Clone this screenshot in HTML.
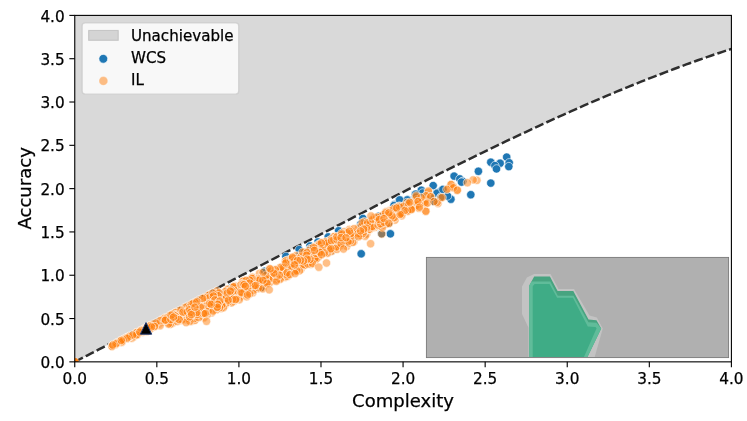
<!DOCTYPE html>
<html lang="en"><head><meta charset="utf-8"><title>Accuracy vs Complexity</title>
<style>html,body{margin:0;padding:0;background:#fff;overflow:hidden}svg{display:block}text{font-family:'DejaVu Sans','Liberation Sans',sans-serif;fill:#000;stroke:#000;stroke-width:0.25px}</style>
</head><body>
<svg width="747" height="421" viewBox="0 0 747 421">
<rect width="747" height="421" fill="#fff"/>
<defs><clipPath id="ax"><rect x="74.75" y="15.40" width="656.65" height="346.45"/></clipPath></defs>
<g clip-path="url(#ax)">
<polygon points="74.75,361.85 78.85,359.74 82.96,357.63 87.06,355.52 91.17,353.41 95.27,351.30 99.37,349.19 103.48,347.08 107.58,344.97 111.69,342.86 115.79,340.75 119.89,338.64 124.00,336.53 128.10,334.42 132.21,332.31 136.31,330.19 140.42,328.08 144.52,325.97 148.62,323.86 152.73,321.74 156.83,319.63 160.94,317.49 165.04,315.35 169.14,313.22 173.25,311.08 177.35,308.94 181.46,306.80 185.56,304.66 189.66,302.52 193.77,300.38 197.87,298.24 201.98,296.10 206.08,293.96 210.18,291.82 214.29,289.68 218.39,287.54 222.50,285.40 226.60,283.26 230.70,281.12 234.81,278.98 238.91,276.85 243.02,274.71 247.12,272.57 251.22,270.43 255.33,268.29 259.43,266.15 263.54,264.01 267.64,261.88 271.75,259.74 275.85,257.60 279.95,255.47 284.06,253.33 288.16,251.20 292.27,249.06 296.37,246.93 300.47,244.80 304.58,242.67 308.68,240.54 312.79,238.41 316.89,236.29 320.99,234.16 325.10,232.03 329.20,229.91 333.31,227.79 337.41,225.67 341.51,223.55 345.62,221.44 349.72,219.32 353.83,217.21 357.93,215.10 362.03,212.99 366.14,210.89 370.24,208.78 374.35,206.68 378.45,204.58 382.55,202.49 386.66,200.39 390.76,198.30 394.87,196.22 398.97,194.13 403.07,192.05 407.18,189.97 411.28,187.90 415.39,185.83 419.49,183.76 423.60,181.70 427.70,179.64 431.80,177.59 435.91,175.54 440.01,173.49 444.12,171.45 448.22,169.41 452.32,167.38 456.43,165.35 460.53,163.33 464.64,161.31 468.74,159.30 472.84,157.29 476.95,155.29 481.05,153.29 485.16,151.30 489.26,149.32 493.36,147.34 497.47,145.37 501.57,143.40 505.68,141.44 509.78,139.49 513.88,137.55 517.99,135.61 522.09,133.68 526.20,131.76 530.30,129.84 534.40,127.94 538.51,126.04 542.61,124.15 546.72,122.26 550.82,120.39 554.93,118.52 559.03,116.67 563.13,114.82 567.24,112.98 571.34,111.15 575.45,109.33 579.55,107.52 583.65,105.72 587.76,103.93 591.86,102.16 595.97,100.39 600.07,98.63 604.17,96.88 608.28,95.15 612.38,93.42 616.49,91.71 620.59,90.01 624.69,88.32 628.80,86.65 632.90,84.98 637.01,83.33 641.11,81.70 645.21,80.07 649.32,78.46 653.42,76.86 657.53,75.28 661.63,73.71 665.74,72.15 669.84,70.58 673.94,69.03 678.05,67.49 682.15,65.96 686.26,64.45 690.36,62.96 694.46,61.48 698.57,60.01 702.67,58.57 706.78,57.14 710.88,55.73 714.98,54.33 719.09,52.95 723.19,51.59 727.30,50.25 731.40,48.93 731.40,15.40 74.75,15.40" fill="#d9d9d9"/>
<polyline points="74.75,361.85 78.85,359.74 82.96,357.63 87.06,355.52 91.17,353.41 95.27,351.30 99.37,349.19 103.48,347.08 107.58,344.97 111.69,342.86 115.79,340.75 119.89,338.64 124.00,336.53 128.10,334.42 132.21,332.31 136.31,330.19 140.42,328.08 144.52,325.97 148.62,323.86 152.73,321.74 156.83,319.63 160.94,317.49 165.04,315.35 169.14,313.22 173.25,311.08 177.35,308.94 181.46,306.80 185.56,304.66 189.66,302.52 193.77,300.38 197.87,298.24 201.98,296.10 206.08,293.96 210.18,291.82 214.29,289.68 218.39,287.54 222.50,285.40 226.60,283.26 230.70,281.12 234.81,278.98 238.91,276.85 243.02,274.71 247.12,272.57 251.22,270.43 255.33,268.29 259.43,266.15 263.54,264.01 267.64,261.88 271.75,259.74 275.85,257.60 279.95,255.47 284.06,253.33 288.16,251.20 292.27,249.06 296.37,246.93 300.47,244.80 304.58,242.67 308.68,240.54 312.79,238.41 316.89,236.29 320.99,234.16 325.10,232.03 329.20,229.91 333.31,227.79 337.41,225.67 341.51,223.55 345.62,221.44 349.72,219.32 353.83,217.21 357.93,215.10 362.03,212.99 366.14,210.89 370.24,208.78 374.35,206.68 378.45,204.58 382.55,202.49 386.66,200.39 390.76,198.30 394.87,196.22 398.97,194.13 403.07,192.05 407.18,189.97 411.28,187.90 415.39,185.83 419.49,183.76 423.60,181.70 427.70,179.64 431.80,177.59 435.91,175.54 440.01,173.49 444.12,171.45 448.22,169.41 452.32,167.38 456.43,165.35 460.53,163.33 464.64,161.31 468.74,159.30 472.84,157.29 476.95,155.29 481.05,153.29 485.16,151.30 489.26,149.32 493.36,147.34 497.47,145.37 501.57,143.40 505.68,141.44 509.78,139.49 513.88,137.55 517.99,135.61 522.09,133.68 526.20,131.76 530.30,129.84 534.40,127.94 538.51,126.04 542.61,124.15 546.72,122.26 550.82,120.39 554.93,118.52 559.03,116.67 563.13,114.82 567.24,112.98 571.34,111.15 575.45,109.33 579.55,107.52 583.65,105.72 587.76,103.93 591.86,102.16 595.97,100.39 600.07,98.63 604.17,96.88 608.28,95.15 612.38,93.42 616.49,91.71 620.59,90.01 624.69,88.32 628.80,86.65 632.90,84.98 637.01,83.33 641.11,81.70 645.21,80.07 649.32,78.46 653.42,76.86 657.53,75.28 661.63,73.71 665.74,72.15 669.84,70.58 673.94,69.03 678.05,67.49 682.15,65.96 686.26,64.45 690.36,62.96 694.46,61.48 698.57,60.01 702.67,58.57 706.78,57.14 710.88,55.73 714.98,54.33 719.09,52.95 723.19,51.59 727.30,50.25 731.40,48.93" fill="none" stroke="#2e2e2e" stroke-width="2.5" stroke-dasharray="9.1 3.2"/>
<g fill="#1f77b4" stroke="#fff" stroke-width="0.62">
<circle cx="506.7" cy="157.1" r="4.20"/>
<circle cx="509.2" cy="162.8" r="4.20"/>
<circle cx="508.8" cy="166.6" r="4.20"/>
<circle cx="500.1" cy="163.2" r="4.20"/>
<circle cx="490.8" cy="162.2" r="4.20"/>
<circle cx="494.9" cy="165.6" r="4.20"/>
<circle cx="496.5" cy="168.9" r="4.20"/>
<circle cx="478.4" cy="171.3" r="4.20"/>
<circle cx="490.8" cy="183.1" r="4.20"/>
<circle cx="470.8" cy="194.7" r="4.20"/>
<circle cx="454.1" cy="176.1" r="4.20"/>
<circle cx="459.8" cy="178.9" r="4.20"/>
<circle cx="462.7" cy="181.4" r="4.20"/>
<circle cx="433.2" cy="185.6" r="4.20"/>
<circle cx="450.9" cy="199.2" r="4.20"/>
<circle cx="447.5" cy="196.0" r="4.20"/>
<circle cx="440.8" cy="191.3" r="4.20"/>
<circle cx="437.0" cy="193.2" r="4.20"/>
<circle cx="421.3" cy="190.3" r="4.20"/>
<circle cx="422.5" cy="193.0" r="4.20"/>
<circle cx="415.2" cy="196.0" r="4.20"/>
<circle cx="407.6" cy="199.8" r="4.20"/>
<circle cx="401.0" cy="200.8" r="4.20"/>
<circle cx="430.4" cy="197.0" r="4.20"/>
<circle cx="440.8" cy="197.0" r="4.20"/>
<circle cx="442.9" cy="189.4" r="4.20"/>
<circle cx="399.3" cy="199.9" r="4.20"/>
<circle cx="407.3" cy="199.9" r="4.20"/>
<circle cx="394.4" cy="204.7" r="4.20"/>
<circle cx="401.7" cy="204.7" r="4.20"/>
<circle cx="390.4" cy="233.8" r="4.20"/>
<circle cx="362.9" cy="218.5" r="4.20"/>
<circle cx="415.4" cy="194.2" r="4.20"/>
<circle cx="434.0" cy="201.5" r="4.20"/>
<circle cx="396.8" cy="208.0" r="4.20"/>
<circle cx="381.5" cy="233.8" r="4.20"/>
<circle cx="388.8" cy="223.3" r="4.20"/>
<circle cx="461.5" cy="182.1" r="4.20"/>
<circle cx="361.2" cy="253.8" r="4.20"/>
<circle cx="338.6" cy="230.8" r="4.20"/>
<circle cx="328.2" cy="236.9" r="4.20"/>
<circle cx="299.2" cy="249.6" r="4.20"/>
<circle cx="285.9" cy="256.4" r="4.20"/>
<circle cx="394.0" cy="205.6" r="4.20"/>
<circle cx="399.7" cy="199.9" r="4.20"/>
<circle cx="415.8" cy="194.2" r="4.20"/>
<circle cx="318.0" cy="242.0" r="4.20"/>
<circle cx="310.0" cy="246.0" r="4.20"/>
<circle cx="332.3" cy="242.2" r="4.20"/>
<circle cx="383.7" cy="219.4" r="4.20"/>
<circle cx="360.7" cy="224.1" r="4.20"/>
<circle cx="256.8" cy="280.8" r="4.20"/>
<circle cx="271.0" cy="273.0" r="4.20"/>
<circle cx="379.2" cy="216.4" r="4.20"/>
<circle cx="215.3" cy="307.8" r="4.20"/>
<circle cx="369.3" cy="224.0" r="4.20"/>
<circle cx="364.8" cy="233.7" r="4.20"/>
<circle cx="302.6" cy="260.6" r="4.20"/>
<circle cx="271.5" cy="277.4" r="4.20"/>
<circle cx="266.9" cy="280.1" r="4.20"/>
<circle cx="262.4" cy="282.9" r="4.20"/>
<circle cx="298.3" cy="256.4" r="4.20"/>
<circle cx="309.5" cy="254.8" r="4.20"/>
<circle cx="318.8" cy="247.3" r="4.20"/>
<circle cx="402.2" cy="208.0" r="4.20"/>
<circle cx="363.9" cy="223.1" r="4.20"/>
<circle cx="331.7" cy="250.7" r="4.20"/>
<circle cx="401.0" cy="206.5" r="4.20"/>
<circle cx="254.9" cy="286.3" r="4.20"/>
<circle cx="244.5" cy="285.3" r="4.20"/>
<circle cx="329.9" cy="250.3" r="4.20"/>
<circle cx="222.6" cy="301.9" r="4.20"/>
<circle cx="221.0" cy="294.7" r="4.20"/>
<circle cx="311.5" cy="259.4" r="4.20"/>
<circle cx="302.3" cy="265.9" r="4.20"/>
<circle cx="387.4" cy="221.0" r="4.20"/>
<circle cx="333.1" cy="244.6" r="4.20"/>
<circle cx="311.3" cy="249.8" r="4.20"/>
<circle cx="308.1" cy="252.1" r="4.20"/>
<circle cx="261.0" cy="287.6" r="4.20"/>
<circle cx="216.5" cy="303.3" r="4.20"/>
<circle cx="250.6" cy="280.4" r="4.20"/>
<circle cx="344.9" cy="242.8" r="4.20"/>
<circle cx="252.2" cy="287.1" r="4.20"/>
<circle cx="284.1" cy="270.1" r="4.20"/>
<circle cx="215.0" cy="301.4" r="4.20"/>
<circle cx="371.0" cy="223.5" r="4.20"/>
<circle cx="243.4" cy="284.8" r="4.20"/>
<circle cx="264.8" cy="271.3" r="4.20"/>
<circle cx="380.5" cy="224.3" r="4.20"/>
<circle cx="310.5" cy="254.7" r="4.20"/>
<circle cx="374.2" cy="223.6" r="4.20"/>
<circle cx="335.1" cy="240.3" r="4.20"/>
<circle cx="354.3" cy="236.2" r="4.20"/>
<circle cx="231.6" cy="287.6" r="4.20"/>
<circle cx="316.4" cy="250.3" r="4.20"/>
<circle cx="310.1" cy="248.8" r="4.20"/>
<circle cx="378.8" cy="216.3" r="4.20"/>
</g>
<g fill="#ff7f0e" fill-opacity="0.5" stroke="#fff" stroke-opacity="0.7" stroke-width="0.85">
<circle cx="245.0" cy="280.5" r="4.20"/>
<circle cx="230.5" cy="293.7" r="4.20"/>
<circle cx="229.2" cy="292.5" r="4.20"/>
<circle cx="343.5" cy="240.5" r="4.20"/>
<circle cx="172.0" cy="317.8" r="4.20"/>
<circle cx="149.9" cy="325.8" r="4.20"/>
<circle cx="176.0" cy="320.0" r="4.20"/>
<circle cx="337.8" cy="241.4" r="4.20"/>
<circle cx="208.3" cy="298.6" r="4.20"/>
<circle cx="166.5" cy="321.2" r="4.20"/>
<circle cx="304.8" cy="264.4" r="4.20"/>
<circle cx="294.3" cy="270.7" r="4.20"/>
<circle cx="331.3" cy="249.9" r="4.20"/>
<circle cx="329.1" cy="240.7" r="4.20"/>
<circle cx="295.0" cy="257.8" r="4.20"/>
<circle cx="363.6" cy="234.2" r="4.20"/>
<circle cx="349.4" cy="229.5" r="4.20"/>
<circle cx="372.0" cy="221.4" r="4.20"/>
<circle cx="127.0" cy="337.9" r="4.20"/>
<circle cx="233.8" cy="301.2" r="4.20"/>
<circle cx="186.9" cy="319.7" r="4.20"/>
<circle cx="270.6" cy="282.0" r="4.20"/>
<circle cx="144.8" cy="328.5" r="4.20"/>
<circle cx="203.7" cy="309.0" r="4.20"/>
<circle cx="240.6" cy="289.6" r="4.20"/>
<circle cx="273.5" cy="275.9" r="4.20"/>
<circle cx="326.9" cy="252.6" r="4.20"/>
<circle cx="347.0" cy="237.7" r="4.20"/>
<circle cx="121.3" cy="342.4" r="4.20"/>
<circle cx="234.6" cy="286.2" r="4.20"/>
<circle cx="227.7" cy="300.3" r="4.20"/>
<circle cx="310.1" cy="262.0" r="4.20"/>
<circle cx="211.9" cy="304.9" r="4.20"/>
<circle cx="271.6" cy="278.9" r="4.20"/>
<circle cx="299.8" cy="257.5" r="4.20"/>
<circle cx="285.3" cy="261.3" r="4.20"/>
<circle cx="365.5" cy="223.1" r="4.20"/>
<circle cx="346.7" cy="246.3" r="4.20"/>
<circle cx="316.0" cy="246.1" r="4.20"/>
<circle cx="339.1" cy="241.1" r="4.20"/>
<circle cx="241.0" cy="286.8" r="4.20"/>
<circle cx="319.1" cy="244.3" r="4.20"/>
<circle cx="287.2" cy="265.4" r="4.20"/>
<circle cx="181.5" cy="314.5" r="4.20"/>
<circle cx="127.3" cy="338.5" r="4.20"/>
<circle cx="374.3" cy="217.4" r="4.20"/>
<circle cx="262.1" cy="282.2" r="4.20"/>
<circle cx="251.4" cy="281.7" r="4.20"/>
<circle cx="295.9" cy="262.0" r="4.20"/>
<circle cx="243.6" cy="280.9" r="4.20"/>
<circle cx="348.7" cy="237.0" r="4.20"/>
<circle cx="250.0" cy="280.2" r="4.20"/>
<circle cx="229.0" cy="292.5" r="4.20"/>
<circle cx="335.2" cy="248.6" r="4.20"/>
<circle cx="256.2" cy="280.1" r="4.20"/>
<circle cx="176.4" cy="317.6" r="4.20"/>
<circle cx="393.4" cy="214.8" r="4.20"/>
<circle cx="334.8" cy="236.4" r="4.20"/>
<circle cx="366.7" cy="234.0" r="4.20"/>
<circle cx="239.8" cy="295.7" r="4.20"/>
<circle cx="189.1" cy="306.4" r="4.20"/>
<circle cx="341.9" cy="236.6" r="4.20"/>
<circle cx="200.1" cy="300.1" r="4.20"/>
<circle cx="259.8" cy="279.9" r="4.20"/>
<circle cx="254.4" cy="280.7" r="4.20"/>
<circle cx="234.7" cy="285.6" r="4.20"/>
<circle cx="158.1" cy="321.9" r="4.20"/>
<circle cx="210.7" cy="294.1" r="4.20"/>
<circle cx="251.6" cy="278.2" r="4.20"/>
<circle cx="210.2" cy="309.5" r="4.20"/>
<circle cx="248.2" cy="285.7" r="4.20"/>
<circle cx="336.2" cy="245.1" r="4.20"/>
<circle cx="324.9" cy="242.9" r="4.20"/>
<circle cx="302.4" cy="264.8" r="4.20"/>
<circle cx="319.7" cy="248.3" r="4.20"/>
<circle cx="203.9" cy="304.0" r="4.20"/>
<circle cx="363.0" cy="232.6" r="4.20"/>
<circle cx="167.9" cy="321.5" r="4.20"/>
<circle cx="176.8" cy="312.3" r="4.20"/>
<circle cx="369.8" cy="229.2" r="4.20"/>
<circle cx="350.2" cy="235.8" r="4.20"/>
<circle cx="394.4" cy="210.1" r="4.20"/>
<circle cx="227.0" cy="297.2" r="4.20"/>
<circle cx="399.3" cy="206.2" r="4.20"/>
<circle cx="274.1" cy="275.2" r="4.20"/>
<circle cx="279.3" cy="268.1" r="4.20"/>
<circle cx="304.1" cy="252.2" r="4.20"/>
<circle cx="344.2" cy="231.7" r="4.20"/>
<circle cx="297.7" cy="270.7" r="4.20"/>
<circle cx="301.8" cy="256.9" r="4.20"/>
<circle cx="229.4" cy="291.3" r="4.20"/>
<circle cx="198.3" cy="316.0" r="4.20"/>
<circle cx="295.4" cy="263.2" r="4.20"/>
<circle cx="351.6" cy="234.6" r="4.20"/>
<circle cx="261.4" cy="280.1" r="4.20"/>
<circle cx="251.9" cy="278.3" r="4.20"/>
<circle cx="223.6" cy="299.6" r="4.20"/>
<circle cx="112.2" cy="345.7" r="4.20"/>
<circle cx="318.4" cy="256.2" r="4.20"/>
<circle cx="310.6" cy="248.7" r="4.20"/>
<circle cx="151.1" cy="325.3" r="4.20"/>
<circle cx="226.5" cy="295.9" r="4.20"/>
<circle cx="252.4" cy="277.3" r="4.20"/>
<circle cx="208.4" cy="295.5" r="4.20"/>
<circle cx="142.4" cy="332.3" r="4.20"/>
<circle cx="270.7" cy="281.9" r="4.20"/>
<circle cx="208.3" cy="309.8" r="4.20"/>
<circle cx="256.5" cy="281.0" r="4.20"/>
<circle cx="191.7" cy="304.5" r="4.20"/>
<circle cx="330.9" cy="251.0" r="4.20"/>
<circle cx="194.0" cy="305.1" r="4.20"/>
<circle cx="256.2" cy="280.3" r="4.20"/>
<circle cx="324.5" cy="247.3" r="4.20"/>
<circle cx="169.8" cy="315.5" r="4.20"/>
<circle cx="389.7" cy="210.5" r="4.20"/>
<circle cx="153.4" cy="326.7" r="4.20"/>
<circle cx="283.4" cy="275.9" r="4.20"/>
<circle cx="115.2" cy="344.5" r="4.20"/>
<circle cx="204.2" cy="311.5" r="4.20"/>
<circle cx="163.6" cy="320.4" r="4.20"/>
<circle cx="301.0" cy="269.2" r="4.20"/>
<circle cx="207.1" cy="311.2" r="4.20"/>
<circle cx="277.3" cy="278.7" r="4.20"/>
<circle cx="289.1" cy="269.3" r="4.20"/>
<circle cx="169.2" cy="318.4" r="4.20"/>
<circle cx="227.4" cy="294.0" r="4.20"/>
<circle cx="366.8" cy="224.6" r="4.20"/>
<circle cx="259.5" cy="273.5" r="4.20"/>
<circle cx="235.5" cy="286.5" r="4.20"/>
<circle cx="191.3" cy="316.4" r="4.20"/>
<circle cx="193.9" cy="320.1" r="4.20"/>
<circle cx="151.0" cy="328.2" r="4.20"/>
<circle cx="219.2" cy="293.6" r="4.20"/>
<circle cx="289.3" cy="262.5" r="4.20"/>
<circle cx="304.1" cy="256.0" r="4.20"/>
<circle cx="323.4" cy="252.7" r="4.20"/>
<circle cx="196.7" cy="304.1" r="4.20"/>
<circle cx="334.8" cy="247.2" r="4.20"/>
<circle cx="313.8" cy="260.7" r="4.20"/>
<circle cx="395.0" cy="220.1" r="4.20"/>
<circle cx="365.2" cy="236.2" r="4.20"/>
<circle cx="191.4" cy="321.2" r="4.20"/>
<circle cx="253.0" cy="282.9" r="4.20"/>
<circle cx="121.7" cy="342.5" r="4.20"/>
<circle cx="356.4" cy="234.8" r="4.20"/>
<circle cx="240.1" cy="290.8" r="4.20"/>
<circle cx="221.1" cy="303.4" r="4.20"/>
<circle cx="150.2" cy="328.5" r="4.20"/>
<circle cx="259.4" cy="281.0" r="4.20"/>
<circle cx="244.5" cy="292.5" r="4.20"/>
<circle cx="199.1" cy="300.1" r="4.20"/>
<circle cx="230.6" cy="301.2" r="4.20"/>
<circle cx="384.0" cy="221.0" r="4.20"/>
<circle cx="284.7" cy="274.7" r="4.20"/>
<circle cx="315.2" cy="255.6" r="4.20"/>
<circle cx="181.2" cy="320.2" r="4.20"/>
<circle cx="285.4" cy="263.8" r="4.20"/>
<circle cx="143.8" cy="329.5" r="4.20"/>
<circle cx="331.7" cy="246.0" r="4.20"/>
<circle cx="247.3" cy="284.8" r="4.20"/>
<circle cx="224.9" cy="305.6" r="4.20"/>
<circle cx="294.2" cy="259.2" r="4.20"/>
<circle cx="261.6" cy="278.7" r="4.20"/>
<circle cx="257.8" cy="284.0" r="4.20"/>
<circle cx="324.1" cy="250.8" r="4.20"/>
<circle cx="234.2" cy="290.6" r="4.20"/>
<circle cx="194.9" cy="320.4" r="4.20"/>
<circle cx="271.8" cy="269.7" r="4.20"/>
<circle cx="389.3" cy="223.3" r="4.20"/>
<circle cx="293.6" cy="266.8" r="4.20"/>
<circle cx="159.4" cy="323.9" r="4.20"/>
<circle cx="126.9" cy="338.5" r="4.20"/>
<circle cx="321.9" cy="250.6" r="4.20"/>
<circle cx="322.4" cy="243.1" r="4.20"/>
<circle cx="177.0" cy="312.5" r="4.20"/>
<circle cx="150.4" cy="328.7" r="4.20"/>
<circle cx="197.4" cy="314.3" r="4.20"/>
<circle cx="207.8" cy="304.4" r="4.20"/>
<circle cx="301.5" cy="263.9" r="4.20"/>
<circle cx="254.6" cy="287.7" r="4.20"/>
<circle cx="190.4" cy="314.8" r="4.20"/>
<circle cx="237.3" cy="290.5" r="4.20"/>
<circle cx="279.5" cy="276.8" r="4.20"/>
<circle cx="258.2" cy="280.1" r="4.20"/>
<circle cx="207.4" cy="306.1" r="4.20"/>
<circle cx="196.4" cy="308.9" r="4.20"/>
<circle cx="316.4" cy="247.8" r="4.20"/>
<circle cx="256.2" cy="280.1" r="4.20"/>
<circle cx="204.0" cy="317.7" r="4.20"/>
<circle cx="231.5" cy="302.9" r="4.20"/>
<circle cx="185.0" cy="310.4" r="4.20"/>
<circle cx="162.8" cy="321.9" r="4.20"/>
<circle cx="256.4" cy="285.0" r="4.20"/>
<circle cx="341.3" cy="234.8" r="4.20"/>
<circle cx="333.5" cy="247.4" r="4.20"/>
<circle cx="189.2" cy="308.7" r="4.20"/>
<circle cx="331.5" cy="251.2" r="4.20"/>
<circle cx="202.8" cy="308.4" r="4.20"/>
<circle cx="278.2" cy="269.9" r="4.20"/>
<circle cx="180.1" cy="317.1" r="4.20"/>
<circle cx="270.6" cy="273.0" r="4.20"/>
<circle cx="386.5" cy="224.1" r="4.20"/>
<circle cx="131.8" cy="338.3" r="4.20"/>
<circle cx="307.7" cy="255.0" r="4.20"/>
<circle cx="276.1" cy="270.0" r="4.20"/>
<circle cx="287.5" cy="276.6" r="4.20"/>
<circle cx="228.0" cy="290.2" r="4.20"/>
<circle cx="135.7" cy="333.3" r="4.20"/>
<circle cx="327.4" cy="253.3" r="4.20"/>
<circle cx="320.6" cy="251.2" r="4.20"/>
<circle cx="201.1" cy="309.8" r="4.20"/>
<circle cx="239.8" cy="297.2" r="4.20"/>
<circle cx="174.0" cy="314.6" r="4.20"/>
<circle cx="314.2" cy="259.1" r="4.20"/>
<circle cx="358.7" cy="227.8" r="4.20"/>
<circle cx="279.9" cy="278.3" r="4.20"/>
<circle cx="312.4" cy="259.0" r="4.20"/>
<circle cx="229.9" cy="298.2" r="4.20"/>
<circle cx="257.7" cy="288.8" r="4.20"/>
<circle cx="299.9" cy="259.8" r="4.20"/>
<circle cx="199.9" cy="311.8" r="4.20"/>
<circle cx="321.9" cy="242.7" r="4.20"/>
<circle cx="333.9" cy="240.4" r="4.20"/>
<circle cx="285.3" cy="272.2" r="4.20"/>
<circle cx="173.8" cy="318.7" r="4.20"/>
<circle cx="389.5" cy="218.7" r="4.20"/>
<circle cx="390.3" cy="213.4" r="4.20"/>
<circle cx="316.8" cy="258.1" r="4.20"/>
<circle cx="315.7" cy="246.7" r="4.20"/>
<circle cx="362.2" cy="229.6" r="4.20"/>
<circle cx="319.1" cy="244.2" r="4.20"/>
<circle cx="380.7" cy="226.3" r="4.20"/>
<circle cx="191.6" cy="315.7" r="4.20"/>
<circle cx="181.6" cy="320.3" r="4.20"/>
<circle cx="235.0" cy="288.7" r="4.20"/>
<circle cx="331.0" cy="245.7" r="4.20"/>
<circle cx="127.9" cy="337.2" r="4.20"/>
<circle cx="351.8" cy="233.3" r="4.20"/>
<circle cx="353.8" cy="241.9" r="4.20"/>
<circle cx="367.8" cy="223.6" r="4.20"/>
<circle cx="295.7" cy="259.6" r="4.20"/>
<circle cx="330.1" cy="241.8" r="4.20"/>
<circle cx="178.3" cy="317.0" r="4.20"/>
<circle cx="139.6" cy="331.3" r="4.20"/>
<circle cx="288.4" cy="266.3" r="4.20"/>
<circle cx="252.8" cy="292.8" r="4.20"/>
<circle cx="190.2" cy="310.5" r="4.20"/>
<circle cx="207.4" cy="298.3" r="4.20"/>
<circle cx="253.2" cy="290.7" r="4.20"/>
<circle cx="154.5" cy="326.2" r="4.20"/>
<circle cx="224.0" cy="296.6" r="4.20"/>
<circle cx="210.9" cy="305.8" r="4.20"/>
<circle cx="144.7" cy="329.0" r="4.20"/>
<circle cx="133.9" cy="336.8" r="4.20"/>
<circle cx="205.8" cy="308.6" r="4.20"/>
<circle cx="303.5" cy="257.7" r="4.20"/>
<circle cx="222.1" cy="303.2" r="4.20"/>
<circle cx="415.9" cy="205.1" r="4.20"/>
<circle cx="318.5" cy="257.1" r="4.20"/>
<circle cx="296.7" cy="263.3" r="4.20"/>
<circle cx="216.6" cy="309.9" r="4.20"/>
<circle cx="391.1" cy="210.7" r="4.20"/>
<circle cx="220.9" cy="308.5" r="4.20"/>
<circle cx="216.1" cy="298.2" r="4.20"/>
<circle cx="282.0" cy="275.2" r="4.20"/>
<circle cx="387.6" cy="213.4" r="4.20"/>
<circle cx="325.7" cy="247.1" r="4.20"/>
<circle cx="358.9" cy="234.8" r="4.20"/>
<circle cx="353.1" cy="232.1" r="4.20"/>
<circle cx="424.4" cy="200.0" r="4.20"/>
<circle cx="337.6" cy="247.1" r="4.20"/>
<circle cx="147.3" cy="327.3" r="4.20"/>
<circle cx="172.6" cy="320.4" r="4.20"/>
<circle cx="216.3" cy="294.9" r="4.20"/>
<circle cx="264.8" cy="283.2" r="4.20"/>
<circle cx="411.5" cy="202.8" r="4.20"/>
<circle cx="373.1" cy="225.5" r="4.20"/>
<circle cx="125.9" cy="338.1" r="4.20"/>
<circle cx="250.0" cy="286.4" r="4.20"/>
<circle cx="173.8" cy="321.6" r="4.20"/>
<circle cx="228.5" cy="301.8" r="4.20"/>
<circle cx="288.2" cy="260.0" r="4.20"/>
<circle cx="311.2" cy="251.7" r="4.20"/>
<circle cx="318.7" cy="251.3" r="4.20"/>
<circle cx="301.9" cy="257.9" r="4.20"/>
<circle cx="304.6" cy="264.9" r="4.20"/>
<circle cx="406.5" cy="205.1" r="4.20"/>
<circle cx="361.2" cy="226.2" r="4.20"/>
<circle cx="184.6" cy="307.7" r="4.20"/>
<circle cx="374.8" cy="227.4" r="4.20"/>
<circle cx="381.3" cy="226.7" r="4.20"/>
<circle cx="369.1" cy="229.3" r="4.20"/>
<circle cx="409.6" cy="209.0" r="4.20"/>
<circle cx="129.4" cy="336.7" r="4.20"/>
<circle cx="383.8" cy="221.1" r="4.20"/>
<circle cx="176.1" cy="318.0" r="4.20"/>
<circle cx="337.0" cy="249.3" r="4.20"/>
<circle cx="379.8" cy="223.0" r="4.20"/>
<circle cx="364.2" cy="221.7" r="4.20"/>
<circle cx="227.6" cy="289.2" r="4.20"/>
<circle cx="349.1" cy="243.2" r="4.20"/>
<circle cx="319.5" cy="244.8" r="4.20"/>
<circle cx="343.2" cy="242.2" r="4.20"/>
<circle cx="352.6" cy="242.4" r="4.20"/>
<circle cx="369.8" cy="221.9" r="4.20"/>
<circle cx="289.0" cy="265.4" r="4.20"/>
<circle cx="225.7" cy="303.6" r="4.20"/>
<circle cx="304.8" cy="262.3" r="4.20"/>
<circle cx="290.9" cy="261.4" r="4.20"/>
<circle cx="395.8" cy="207.4" r="4.20"/>
<circle cx="174.4" cy="317.5" r="4.20"/>
<circle cx="334.0" cy="236.6" r="4.20"/>
<circle cx="143.8" cy="329.4" r="4.20"/>
<circle cx="328.2" cy="242.4" r="4.20"/>
<circle cx="244.8" cy="286.7" r="4.20"/>
<circle cx="307.7" cy="256.6" r="4.20"/>
<circle cx="374.6" cy="222.7" r="4.20"/>
<circle cx="223.7" cy="295.2" r="4.20"/>
<circle cx="329.4" cy="247.0" r="4.20"/>
<circle cx="418.9" cy="203.7" r="4.20"/>
<circle cx="190.6" cy="311.0" r="4.20"/>
<circle cx="368.7" cy="226.1" r="4.20"/>
<circle cx="373.1" cy="227.2" r="4.20"/>
<circle cx="186.1" cy="319.7" r="4.20"/>
<circle cx="291.8" cy="267.3" r="4.20"/>
<circle cx="345.3" cy="240.6" r="4.20"/>
<circle cx="350.6" cy="240.8" r="4.20"/>
<circle cx="212.9" cy="302.5" r="4.20"/>
<circle cx="217.3" cy="309.0" r="4.20"/>
<circle cx="253.1" cy="283.7" r="4.20"/>
<circle cx="209.2" cy="295.1" r="4.20"/>
<circle cx="266.2" cy="282.1" r="4.20"/>
<circle cx="175.0" cy="313.1" r="4.20"/>
<circle cx="137.0" cy="335.0" r="4.20"/>
<circle cx="204.8" cy="297.5" r="4.20"/>
<circle cx="233.8" cy="286.6" r="4.20"/>
<circle cx="194.6" cy="307.6" r="4.20"/>
<circle cx="287.9" cy="274.8" r="4.20"/>
<circle cx="310.5" cy="258.3" r="4.20"/>
<circle cx="326.9" cy="242.5" r="4.20"/>
<circle cx="168.0" cy="320.6" r="4.20"/>
<circle cx="322.7" cy="248.7" r="4.20"/>
<circle cx="228.0" cy="292.0" r="4.20"/>
<circle cx="165.3" cy="318.0" r="4.20"/>
<circle cx="128.7" cy="337.3" r="4.20"/>
<circle cx="240.4" cy="287.8" r="4.20"/>
<circle cx="268.7" cy="283.2" r="4.20"/>
<circle cx="179.7" cy="318.2" r="4.20"/>
<circle cx="267.7" cy="279.2" r="4.20"/>
<circle cx="120.4" cy="341.0" r="4.20"/>
<circle cx="295.8" cy="255.6" r="4.20"/>
<circle cx="340.4" cy="245.7" r="4.20"/>
<circle cx="266.0" cy="281.4" r="4.20"/>
<circle cx="242.6" cy="281.4" r="4.20"/>
<circle cx="367.6" cy="224.1" r="4.20"/>
<circle cx="399.1" cy="206.4" r="4.20"/>
<circle cx="175.0" cy="319.4" r="4.20"/>
<circle cx="296.5" cy="258.5" r="4.20"/>
<circle cx="320.3" cy="249.3" r="4.20"/>
<circle cx="196.4" cy="302.7" r="4.20"/>
<circle cx="112.2" cy="345.7" r="4.20"/>
<circle cx="233.8" cy="295.4" r="4.20"/>
<circle cx="262.2" cy="287.3" r="4.20"/>
<circle cx="385.3" cy="220.3" r="4.20"/>
<circle cx="115.2" cy="344.7" r="4.20"/>
<circle cx="269.5" cy="268.8" r="4.20"/>
<circle cx="275.5" cy="271.3" r="4.20"/>
<circle cx="196.2" cy="306.7" r="4.20"/>
<circle cx="385.9" cy="211.7" r="4.20"/>
<circle cx="216.9" cy="290.9" r="4.20"/>
<circle cx="327.7" cy="245.1" r="4.20"/>
<circle cx="116.4" cy="343.1" r="4.20"/>
<circle cx="235.1" cy="291.0" r="4.20"/>
<circle cx="406.7" cy="202.6" r="4.20"/>
<circle cx="167.3" cy="320.8" r="4.20"/>
<circle cx="285.1" cy="277.2" r="4.20"/>
<circle cx="316.0" cy="259.5" r="4.20"/>
<circle cx="197.6" cy="306.7" r="4.20"/>
<circle cx="210.0" cy="296.9" r="4.20"/>
<circle cx="322.7" cy="248.2" r="4.20"/>
<circle cx="304.9" cy="262.3" r="4.20"/>
<circle cx="252.1" cy="280.6" r="4.20"/>
<circle cx="260.5" cy="280.5" r="4.20"/>
<circle cx="393.1" cy="217.9" r="4.20"/>
<circle cx="285.4" cy="261.8" r="4.20"/>
<circle cx="216.9" cy="303.2" r="4.20"/>
<circle cx="123.8" cy="339.3" r="4.20"/>
<circle cx="247.3" cy="289.9" r="4.20"/>
<circle cx="120.3" cy="341.2" r="4.20"/>
<circle cx="309.6" cy="254.8" r="4.20"/>
<circle cx="393.8" cy="208.6" r="4.20"/>
<circle cx="325.8" cy="241.6" r="4.20"/>
<circle cx="211.8" cy="312.9" r="4.20"/>
<circle cx="146.8" cy="327.6" r="4.20"/>
<circle cx="222.1" cy="304.5" r="4.20"/>
<circle cx="213.0" cy="303.9" r="4.20"/>
<circle cx="179.2" cy="310.7" r="4.20"/>
<circle cx="369.2" cy="229.5" r="4.20"/>
<circle cx="330.1" cy="249.7" r="4.20"/>
<circle cx="241.8" cy="292.2" r="4.20"/>
<circle cx="185.2" cy="318.9" r="4.20"/>
<circle cx="147.4" cy="328.4" r="4.20"/>
<circle cx="401.2" cy="214.9" r="4.20"/>
<circle cx="362.9" cy="232.4" r="4.20"/>
<circle cx="166.5" cy="317.7" r="4.20"/>
<circle cx="266.1" cy="278.8" r="4.20"/>
<circle cx="286.1" cy="260.7" r="4.20"/>
<circle cx="160.6" cy="321.9" r="4.20"/>
<circle cx="153.5" cy="324.0" r="4.20"/>
<circle cx="259.9" cy="283.0" r="4.20"/>
<circle cx="241.4" cy="288.9" r="4.20"/>
<circle cx="363.6" cy="229.4" r="4.20"/>
<circle cx="147.9" cy="327.4" r="4.20"/>
<circle cx="314.9" cy="258.7" r="4.20"/>
<circle cx="175.5" cy="312.5" r="4.20"/>
<circle cx="183.5" cy="310.2" r="4.20"/>
<circle cx="206.4" cy="305.5" r="4.20"/>
<circle cx="282.7" cy="271.8" r="4.20"/>
<circle cx="305.8" cy="253.7" r="4.20"/>
<circle cx="258.6" cy="278.4" r="4.20"/>
<circle cx="194.2" cy="318.6" r="4.20"/>
<circle cx="162.0" cy="319.6" r="4.20"/>
<circle cx="223.3" cy="307.7" r="4.20"/>
<circle cx="176.5" cy="316.1" r="4.20"/>
<circle cx="129.9" cy="336.1" r="4.20"/>
<circle cx="185.4" cy="313.7" r="4.20"/>
<circle cx="259.9" cy="279.0" r="4.20"/>
<circle cx="272.2" cy="278.2" r="4.20"/>
<circle cx="331.5" cy="239.0" r="4.20"/>
<circle cx="415.6" cy="205.6" r="4.20"/>
<circle cx="198.4" cy="309.5" r="4.20"/>
<circle cx="390.9" cy="217.5" r="4.20"/>
<circle cx="192.3" cy="313.3" r="4.20"/>
<circle cx="174.9" cy="319.8" r="4.20"/>
<circle cx="247.7" cy="288.6" r="4.20"/>
<circle cx="340.6" cy="239.6" r="4.20"/>
<circle cx="236.2" cy="290.9" r="4.20"/>
<circle cx="229.7" cy="296.6" r="4.20"/>
<circle cx="348.0" cy="241.8" r="4.20"/>
<circle cx="373.0" cy="220.4" r="4.20"/>
<circle cx="272.1" cy="274.2" r="4.20"/>
<circle cx="417.1" cy="199.6" r="4.20"/>
<circle cx="290.7" cy="259.5" r="4.20"/>
<circle cx="258.5" cy="287.7" r="4.20"/>
<circle cx="276.2" cy="280.1" r="4.20"/>
<circle cx="214.6" cy="304.4" r="4.20"/>
<circle cx="122.2" cy="341.5" r="4.20"/>
<circle cx="239.3" cy="299.7" r="4.20"/>
<circle cx="225.4" cy="291.4" r="4.20"/>
<circle cx="192.3" cy="310.0" r="4.20"/>
<circle cx="196.7" cy="312.9" r="4.20"/>
<circle cx="353.5" cy="233.8" r="4.20"/>
<circle cx="284.4" cy="267.2" r="4.20"/>
<circle cx="171.0" cy="322.2" r="4.20"/>
<circle cx="172.4" cy="323.2" r="4.20"/>
<circle cx="360.3" cy="233.5" r="4.20"/>
<circle cx="233.5" cy="286.9" r="4.20"/>
<circle cx="408.0" cy="210.5" r="4.20"/>
<circle cx="314.8" cy="248.3" r="4.20"/>
<circle cx="236.4" cy="299.2" r="4.20"/>
<circle cx="269.5" cy="279.0" r="4.20"/>
<circle cx="207.4" cy="314.5" r="4.20"/>
<circle cx="188.4" cy="305.9" r="4.20"/>
<circle cx="259.1" cy="280.3" r="4.20"/>
<circle cx="146.4" cy="329.2" r="4.20"/>
<circle cx="172.7" cy="320.8" r="4.20"/>
<circle cx="279.9" cy="270.0" r="4.20"/>
<circle cx="232.7" cy="291.4" r="4.20"/>
<circle cx="241.5" cy="283.8" r="4.20"/>
<circle cx="292.2" cy="258.1" r="4.20"/>
<circle cx="219.0" cy="292.8" r="4.20"/>
<circle cx="382.5" cy="227.6" r="4.20"/>
<circle cx="308.9" cy="250.6" r="4.20"/>
<circle cx="221.8" cy="305.1" r="4.20"/>
<circle cx="160.1" cy="325.7" r="4.20"/>
<circle cx="117.2" cy="343.0" r="4.20"/>
<circle cx="381.8" cy="223.8" r="4.20"/>
<circle cx="310.0" cy="254.0" r="4.20"/>
<circle cx="269.7" cy="279.0" r="4.20"/>
<circle cx="399.9" cy="207.5" r="4.20"/>
<circle cx="176.0" cy="315.3" r="4.20"/>
<circle cx="265.4" cy="278.9" r="4.20"/>
<circle cx="370.6" cy="223.2" r="4.20"/>
<circle cx="141.7" cy="331.5" r="4.20"/>
<circle cx="301.3" cy="256.4" r="4.20"/>
<circle cx="362.2" cy="222.8" r="4.20"/>
<circle cx="247.1" cy="291.7" r="4.20"/>
<circle cx="411.4" cy="208.6" r="4.20"/>
<circle cx="304.0" cy="258.6" r="4.20"/>
<circle cx="169.4" cy="316.1" r="4.20"/>
<circle cx="231.1" cy="290.0" r="4.20"/>
<circle cx="195.3" cy="312.5" r="4.20"/>
<circle cx="316.1" cy="253.3" r="4.20"/>
<circle cx="327.1" cy="243.2" r="4.20"/>
<circle cx="186.2" cy="307.1" r="4.20"/>
<circle cx="302.7" cy="252.1" r="4.20"/>
<circle cx="363.1" cy="232.9" r="4.20"/>
<circle cx="283.3" cy="267.7" r="4.20"/>
<circle cx="141.5" cy="330.5" r="4.20"/>
<circle cx="208.2" cy="311.6" r="4.20"/>
<circle cx="335.9" cy="238.1" r="4.20"/>
<circle cx="403.6" cy="206.3" r="4.20"/>
<circle cx="219.7" cy="300.6" r="4.20"/>
<circle cx="386.0" cy="215.4" r="4.20"/>
<circle cx="342.2" cy="234.7" r="4.20"/>
<circle cx="217.4" cy="305.2" r="4.20"/>
<circle cx="280.2" cy="279.4" r="4.20"/>
<circle cx="202.7" cy="298.5" r="4.20"/>
<circle cx="293.3" cy="262.5" r="4.20"/>
<circle cx="371.6" cy="227.7" r="4.20"/>
<circle cx="377.2" cy="217.8" r="4.20"/>
<circle cx="310.8" cy="264.2" r="4.20"/>
<circle cx="218.1" cy="295.7" r="4.20"/>
<circle cx="170.2" cy="324.4" r="4.20"/>
<circle cx="176.3" cy="314.6" r="4.20"/>
<circle cx="189.7" cy="307.1" r="4.20"/>
<circle cx="354.1" cy="228.6" r="4.20"/>
<circle cx="291.5" cy="263.3" r="4.20"/>
<circle cx="304.4" cy="265.4" r="4.20"/>
<circle cx="336.5" cy="246.9" r="4.20"/>
<circle cx="372.3" cy="226.4" r="4.20"/>
<circle cx="189.7" cy="318.5" r="4.20"/>
<circle cx="287.0" cy="276.1" r="4.20"/>
<circle cx="319.2" cy="251.9" r="4.20"/>
<circle cx="307.4" cy="258.4" r="4.20"/>
<circle cx="367.7" cy="222.5" r="4.20"/>
<circle cx="254.2" cy="285.7" r="4.20"/>
<circle cx="243.2" cy="285.2" r="4.20"/>
<circle cx="112.0" cy="346.6" r="4.20"/>
<circle cx="198.7" cy="317.6" r="4.20"/>
<circle cx="352.6" cy="235.7" r="4.20"/>
<circle cx="270.8" cy="271.0" r="4.20"/>
<circle cx="350.6" cy="233.6" r="4.20"/>
<circle cx="203.9" cy="313.8" r="4.20"/>
<circle cx="197.5" cy="309.0" r="4.20"/>
<circle cx="372.6" cy="219.4" r="4.20"/>
<circle cx="123.1" cy="339.9" r="4.20"/>
<circle cx="136.4" cy="332.8" r="4.20"/>
<circle cx="212.8" cy="302.4" r="4.20"/>
<circle cx="165.9" cy="320.4" r="4.20"/>
<circle cx="276.8" cy="276.8" r="4.20"/>
<circle cx="307.2" cy="252.5" r="4.20"/>
<circle cx="342.3" cy="238.8" r="4.20"/>
<circle cx="394.4" cy="217.7" r="4.20"/>
<circle cx="182.2" cy="319.7" r="4.20"/>
<circle cx="302.5" cy="264.7" r="4.20"/>
<circle cx="183.3" cy="312.6" r="4.20"/>
<circle cx="335.0" cy="240.2" r="4.20"/>
<circle cx="219.5" cy="307.7" r="4.20"/>
<circle cx="242.5" cy="293.1" r="4.20"/>
<circle cx="378.1" cy="225.1" r="4.20"/>
<circle cx="187.8" cy="318.4" r="4.20"/>
<circle cx="276.3" cy="281.4" r="4.20"/>
<circle cx="240.8" cy="284.9" r="4.20"/>
<circle cx="212.9" cy="293.1" r="4.20"/>
<circle cx="146.9" cy="331.5" r="4.20"/>
<circle cx="201.2" cy="306.8" r="4.20"/>
<circle cx="246.7" cy="296.7" r="4.20"/>
<circle cx="361.0" cy="235.4" r="4.20"/>
<circle cx="379.1" cy="220.2" r="4.20"/>
<circle cx="307.9" cy="264.0" r="4.20"/>
<circle cx="324.5" cy="252.9" r="4.20"/>
<circle cx="247.7" cy="288.8" r="4.20"/>
<circle cx="280.9" cy="267.3" r="4.20"/>
<circle cx="262.9" cy="288.8" r="4.20"/>
<circle cx="312.5" cy="263.5" r="4.20"/>
<circle cx="143.0" cy="331.2" r="4.20"/>
<circle cx="189.9" cy="321.2" r="4.20"/>
<circle cx="363.5" cy="231.5" r="4.20"/>
<circle cx="136.7" cy="332.7" r="4.20"/>
<circle cx="186.1" cy="322.6" r="4.20"/>
<circle cx="265.8" cy="275.6" r="4.20"/>
<circle cx="299.4" cy="270.9" r="4.20"/>
<circle cx="181.0" cy="310.1" r="4.20"/>
<circle cx="195.8" cy="308.8" r="4.20"/>
<circle cx="295.4" cy="265.7" r="4.20"/>
<circle cx="163.9" cy="318.8" r="4.20"/>
<circle cx="401.8" cy="215.8" r="4.20"/>
<circle cx="226.3" cy="298.2" r="4.20"/>
<circle cx="230.2" cy="294.8" r="4.20"/>
<circle cx="252.0" cy="278.5" r="4.20"/>
<circle cx="347.1" cy="232.8" r="4.20"/>
<circle cx="266.8" cy="283.6" r="4.20"/>
<circle cx="249.7" cy="280.1" r="4.20"/>
<circle cx="274.9" cy="274.1" r="4.20"/>
<circle cx="189.1" cy="313.6" r="4.20"/>
<circle cx="285.5" cy="274.1" r="4.20"/>
<circle cx="249.8" cy="293.9" r="4.20"/>
<circle cx="232.6" cy="299.3" r="4.20"/>
<circle cx="235.4" cy="299.6" r="4.20"/>
<circle cx="178.4" cy="316.3" r="4.20"/>
<circle cx="333.7" cy="239.7" r="4.20"/>
<circle cx="358.2" cy="233.5" r="4.20"/>
<circle cx="174.0" cy="315.3" r="4.20"/>
<circle cx="160.3" cy="320.6" r="4.20"/>
<circle cx="363.1" cy="233.6" r="4.20"/>
<circle cx="275.3" cy="269.7" r="4.20"/>
<circle cx="306.5" cy="255.3" r="4.20"/>
<circle cx="291.1" cy="267.0" r="4.20"/>
<circle cx="263.1" cy="272.4" r="4.20"/>
<circle cx="137.3" cy="334.8" r="4.20"/>
<circle cx="294.5" cy="260.9" r="4.20"/>
<circle cx="349.4" cy="231.2" r="4.20"/>
<circle cx="378.6" cy="221.3" r="4.20"/>
<circle cx="166.9" cy="318.1" r="4.20"/>
<circle cx="366.5" cy="228.2" r="4.20"/>
<circle cx="389.0" cy="216.0" r="4.20"/>
<circle cx="209.6" cy="303.5" r="4.20"/>
<circle cx="141.1" cy="330.4" r="4.20"/>
<circle cx="246.1" cy="280.4" r="4.20"/>
<circle cx="185.0" cy="312.7" r="4.20"/>
<circle cx="383.3" cy="214.6" r="4.20"/>
<circle cx="381.3" cy="216.2" r="4.20"/>
<circle cx="331.5" cy="240.8" r="4.20"/>
<circle cx="389.7" cy="214.4" r="4.20"/>
<circle cx="213.2" cy="311.0" r="4.20"/>
<circle cx="121.7" cy="341.9" r="4.20"/>
<circle cx="310.0" cy="259.4" r="4.20"/>
<circle cx="313.4" cy="247.4" r="4.20"/>
<circle cx="320.2" cy="252.6" r="4.20"/>
<circle cx="191.0" cy="312.0" r="4.20"/>
<circle cx="337.1" cy="239.9" r="4.20"/>
<circle cx="227.2" cy="293.1" r="4.20"/>
<circle cx="194.9" cy="302.5" r="4.20"/>
<circle cx="341.2" cy="243.7" r="4.20"/>
<circle cx="380.7" cy="223.9" r="4.20"/>
<circle cx="191.3" cy="304.3" r="4.20"/>
<circle cx="279.4" cy="275.1" r="4.20"/>
<circle cx="168.4" cy="324.0" r="4.20"/>
<circle cx="273.8" cy="273.1" r="4.20"/>
<circle cx="267.2" cy="283.2" r="4.20"/>
<circle cx="230.2" cy="291.1" r="4.20"/>
<circle cx="358.5" cy="236.7" r="4.20"/>
<circle cx="198.5" cy="312.5" r="4.20"/>
<circle cx="228.3" cy="300.1" r="4.20"/>
<circle cx="336.8" cy="236.8" r="4.20"/>
<circle cx="262.9" cy="280.2" r="4.20"/>
<circle cx="294.7" cy="271.4" r="4.20"/>
<circle cx="376.8" cy="217.1" r="4.20"/>
<circle cx="213.4" cy="296.0" r="4.20"/>
<circle cx="136.5" cy="334.8" r="4.20"/>
<circle cx="214.9" cy="299.9" r="4.20"/>
<circle cx="307.1" cy="259.2" r="4.20"/>
<circle cx="249.5" cy="283.1" r="4.20"/>
<circle cx="116.0" cy="343.8" r="4.20"/>
<circle cx="217.5" cy="303.6" r="4.20"/>
<circle cx="285.8" cy="263.0" r="4.20"/>
<circle cx="193.0" cy="313.9" r="4.20"/>
<circle cx="172.7" cy="314.1" r="4.20"/>
<circle cx="182.9" cy="312.1" r="4.20"/>
<circle cx="303.5" cy="261.0" r="4.20"/>
<circle cx="193.1" cy="303.4" r="4.20"/>
<circle cx="164.8" cy="320.5" r="4.20"/>
<circle cx="216.9" cy="307.4" r="4.20"/>
<circle cx="150.2" cy="326.8" r="4.20"/>
<circle cx="341.6" cy="233.4" r="4.20"/>
<circle cx="203.4" cy="313.5" r="4.20"/>
<circle cx="193.4" cy="313.2" r="4.20"/>
<circle cx="300.5" cy="260.3" r="4.20"/>
<circle cx="219.8" cy="301.1" r="4.20"/>
<circle cx="197.4" cy="314.5" r="4.20"/>
<circle cx="363.7" cy="229.1" r="4.20"/>
<circle cx="287.1" cy="272.6" r="4.20"/>
<circle cx="292.5" cy="257.1" r="4.20"/>
<circle cx="112.8" cy="345.0" r="4.20"/>
<circle cx="132.7" cy="335.1" r="4.20"/>
<circle cx="385.5" cy="212.9" r="4.20"/>
<circle cx="205.2" cy="313.5" r="4.20"/>
<circle cx="187.2" cy="311.9" r="4.20"/>
<circle cx="321.6" cy="254.7" r="4.20"/>
<circle cx="297.5" cy="260.5" r="4.20"/>
<circle cx="145.9" cy="330.5" r="4.20"/>
<circle cx="150.1" cy="325.7" r="4.20"/>
<circle cx="217.8" cy="304.4" r="4.20"/>
<circle cx="177.3" cy="321.5" r="4.20"/>
<circle cx="425.4" cy="204.1" r="4.20"/>
<circle cx="314.4" cy="250.4" r="4.20"/>
<circle cx="321.3" cy="243.0" r="4.20"/>
<circle cx="270.1" cy="268.9" r="4.20"/>
<circle cx="289.9" cy="274.6" r="4.20"/>
<circle cx="139.8" cy="332.0" r="4.20"/>
<circle cx="156.0" cy="323.1" r="4.20"/>
<circle cx="154.5" cy="326.5" r="4.20"/>
<circle cx="243.2" cy="284.0" r="4.20"/>
<circle cx="296.8" cy="270.9" r="4.20"/>
<circle cx="127.1" cy="338.2" r="4.20"/>
<circle cx="175.2" cy="315.9" r="4.20"/>
<circle cx="244.2" cy="284.6" r="4.20"/>
<circle cx="189.4" cy="309.8" r="4.20"/>
<circle cx="200.2" cy="307.1" r="4.20"/>
<circle cx="189.6" cy="316.9" r="4.20"/>
<circle cx="245.4" cy="286.2" r="4.20"/>
<circle cx="341.1" cy="237.6" r="4.20"/>
<circle cx="294.5" cy="264.7" r="4.20"/>
<circle cx="217.4" cy="307.2" r="4.20"/>
<circle cx="175.7" cy="318.3" r="4.20"/>
<circle cx="151.5" cy="326.9" r="4.20"/>
<circle cx="196.8" cy="312.5" r="4.20"/>
<circle cx="401.0" cy="213.1" r="4.20"/>
<circle cx="241.3" cy="292.7" r="4.20"/>
<circle cx="379.4" cy="219.5" r="4.20"/>
<circle cx="165.5" cy="320.0" r="4.20"/>
<circle cx="330.9" cy="248.7" r="4.20"/>
<circle cx="392.1" cy="215.8" r="4.20"/>
<circle cx="121.3" cy="340.4" r="4.20"/>
<circle cx="196.8" cy="301.6" r="4.20"/>
<circle cx="384.2" cy="222.3" r="4.20"/>
<circle cx="360.5" cy="230.9" r="4.20"/>
<circle cx="170.9" cy="319.5" r="4.20"/>
<circle cx="211.1" cy="304.4" r="4.20"/>
<circle cx="190.8" cy="312.3" r="4.20"/>
<circle cx="346.0" cy="237.7" r="4.20"/>
<circle cx="179.1" cy="319.6" r="4.20"/>
<circle cx="191.5" cy="314.6" r="4.20"/>
<circle cx="171.1" cy="315.1" r="4.20"/>
<circle cx="194.9" cy="307.2" r="4.20"/>
<circle cx="255.5" cy="285.5" r="4.20"/>
<circle cx="173.5" cy="317.1" r="4.20"/>
<circle cx="476.9" cy="180.3" r="4.20"/>
<circle cx="473.1" cy="179.9" r="4.20"/>
<circle cx="467.4" cy="182.7" r="4.20"/>
<circle cx="457.0" cy="190.3" r="4.20"/>
<circle cx="451.3" cy="184.6" r="4.20"/>
<circle cx="448.4" cy="188.4" r="4.20"/>
<circle cx="453.2" cy="186.5" r="4.20"/>
<circle cx="440.8" cy="197.9" r="4.20"/>
<circle cx="438.0" cy="203.6" r="4.20"/>
<circle cx="428.5" cy="192.2" r="4.20"/>
<circle cx="426.6" cy="196.0" r="4.20"/>
<circle cx="424.7" cy="202.7" r="4.20"/>
<circle cx="425.6" cy="211.2" r="4.20"/>
<circle cx="416.1" cy="197.0" r="4.20"/>
<circle cx="418.0" cy="201.7" r="4.20"/>
<circle cx="411.4" cy="209.3" r="4.20"/>
<circle cx="419.0" cy="208.4" r="4.20"/>
<circle cx="407.6" cy="211.2" r="4.20"/>
<circle cx="401.9" cy="214.0" r="4.20"/>
<circle cx="408.5" cy="203.6" r="4.20"/>
<circle cx="430.4" cy="197.0" r="4.20"/>
<circle cx="451.0" cy="184.5" r="4.20"/>
<circle cx="453.4" cy="187.8" r="4.20"/>
<circle cx="457.4" cy="190.2" r="4.20"/>
<circle cx="446.9" cy="189.4" r="4.20"/>
<circle cx="437.2" cy="202.3" r="4.20"/>
<circle cx="442.1" cy="197.5" r="4.20"/>
<circle cx="428.4" cy="191.0" r="4.20"/>
<circle cx="425.9" cy="195.8" r="4.20"/>
<circle cx="430.8" cy="196.6" r="4.20"/>
<circle cx="421.1" cy="197.5" r="4.20"/>
<circle cx="416.2" cy="195.8" r="4.20"/>
<circle cx="417.9" cy="201.5" r="4.20"/>
<circle cx="425.9" cy="211.2" r="4.20"/>
<circle cx="427.5" cy="203.1" r="4.20"/>
<circle cx="419.5" cy="207.2" r="4.20"/>
<circle cx="411.4" cy="209.6" r="4.20"/>
<circle cx="409.8" cy="202.3" r="4.20"/>
<circle cx="404.9" cy="210.4" r="4.20"/>
<circle cx="400.1" cy="214.4" r="4.20"/>
<circle cx="388.8" cy="212.8" r="4.20"/>
<circle cx="383.9" cy="218.5" r="4.20"/>
<circle cx="371.0" cy="216.0" r="4.20"/>
<circle cx="434.0" cy="201.5" r="4.20"/>
<circle cx="396.8" cy="208.0" r="4.20"/>
<circle cx="381.8" cy="234.0" r="4.20"/>
<circle cx="388.8" cy="223.3" r="4.20"/>
<circle cx="206.5" cy="321.3" r="4.20"/>
<circle cx="247.5" cy="295.0" r="4.20"/>
<circle cx="269.2" cy="289.8" r="4.20"/>
<circle cx="295.0" cy="273.6" r="4.20"/>
<circle cx="326.5" cy="263.0" r="4.20"/>
<circle cx="318.8" cy="267.2" r="4.20"/>
<circle cx="370.6" cy="243.7" r="4.20"/>
<circle cx="343.5" cy="249.0" r="4.20"/>
</g>
<circle cx="74.75" cy="361.85" r="4.20" fill="#ff7f0e" stroke="#fff" stroke-width="0.3"/>
<polygon points="146.0,322.6 151.7,334.2 140.3,334.2" fill="#000" stroke="#1f3a75" stroke-width="1.0" stroke-linejoin="miter"/>
</g>
<g id="inset">
<rect x="426.4" y="257.4" width="302.2" height="100.2" fill="#b0b0b0" stroke="#787878" stroke-width="0.9"/>
<defs><clipPath id="ins"><rect x="426.9" y="257.9" width="301.2" height="99.2"/></clipPath></defs>
<g clip-path="url(#ins)">
<polygon points="522.0,314 522.0,286.6 526.9,277.5 534.2,274.1 550.5,274.1 558.5,289 574,289 589.5,315.6 596.8,317.6 602.8,328.5 594.4,358 528.5,358 528.5,327.8" fill="#c3c3c3"/>
<polygon points="529.3,358 529.3,285.4 534.2,276.5 549.9,276.5 557.6,291.0 573.3,291.0 588.5,319.4 596.5,320.2 601.2,328.5 587.0,358" fill="#47a480"/>
<polygon points="529.3,358 529.3,285.4 531.6,281.6 550.3,281.6 557.8,295.8 573.6,295.8 588.4,322.2 596.4,322.8 601.2,328.5 587.0,358" fill="#60bc9a"/>
<polygon points="532.7,358 532.7,286.2 534.6,283.9 549.5,283.9 557.1,297.7 572.9,297.7 587.8,326.4 595.4,327.0 596.6,328.2 583.5,358" fill="#3fac86"/>
</g></g>
<rect x="74.75" y="15.40" width="656.65" height="346.45" fill="none" stroke="#000" stroke-width="1.11"/>
<g stroke="#000" stroke-width="1.11">
<line x1="74.75" y1="361.85" x2="74.75" y2="367.26"/>
<line x1="74.75" y1="361.85" x2="69.34" y2="361.85"/>
<line x1="156.83" y1="361.85" x2="156.83" y2="367.26"/>
<line x1="74.75" y1="318.54" x2="69.34" y2="318.54"/>
<line x1="238.91" y1="361.85" x2="238.91" y2="367.26"/>
<line x1="74.75" y1="275.24" x2="69.34" y2="275.24"/>
<line x1="320.99" y1="361.85" x2="320.99" y2="367.26"/>
<line x1="74.75" y1="231.93" x2="69.34" y2="231.93"/>
<line x1="403.07" y1="361.85" x2="403.07" y2="367.26"/>
<line x1="74.75" y1="188.62" x2="69.34" y2="188.62"/>
<line x1="485.16" y1="361.85" x2="485.16" y2="367.26"/>
<line x1="74.75" y1="145.32" x2="69.34" y2="145.32"/>
<line x1="567.24" y1="361.85" x2="567.24" y2="367.26"/>
<line x1="74.75" y1="102.01" x2="69.34" y2="102.01"/>
<line x1="649.32" y1="361.85" x2="649.32" y2="367.26"/>
<line x1="74.75" y1="58.71" x2="69.34" y2="58.71"/>
<line x1="731.40" y1="361.85" x2="731.40" y2="367.26"/>
<line x1="74.75" y1="15.40" x2="69.34" y2="15.40"/>
</g>
<g font-size="15.28px">
<text x="74.75" y="383.70" text-anchor="middle">0.0</text>
<text x="156.83" y="383.70" text-anchor="middle">0.5</text>
<text x="238.91" y="383.70" text-anchor="middle">1.0</text>
<text x="320.99" y="383.70" text-anchor="middle">1.5</text>
<text x="403.07" y="383.70" text-anchor="middle">2.0</text>
<text x="485.16" y="383.70" text-anchor="middle">2.5</text>
<text x="567.24" y="383.70" text-anchor="middle">3.0</text>
<text x="649.32" y="383.70" text-anchor="middle">3.5</text>
<text x="731.40" y="383.70" text-anchor="middle">4.0</text>
<text x="64.70" y="367.95" text-anchor="end">0.0</text>
<text x="64.70" y="324.64" text-anchor="end">0.5</text>
<text x="64.70" y="281.34" text-anchor="end">1.0</text>
<text x="64.70" y="238.03" text-anchor="end">1.5</text>
<text x="64.70" y="194.72" text-anchor="end">2.0</text>
<text x="64.70" y="151.42" text-anchor="end">2.5</text>
<text x="64.70" y="108.11" text-anchor="end">3.0</text>
<text x="64.70" y="64.81" text-anchor="end">3.5</text>
<text x="64.70" y="21.50" text-anchor="end">4.0</text>
</g>
<text x="403.07" y="407.0" font-size="18.06px" text-anchor="middle">Complexity</text>
<text transform="translate(30.5,229.5) rotate(-90)" font-size="18.06px">Accuracy</text>
<g id="legend">
<rect x="82.07" y="22.9" width="156.7" height="71.25" rx="3.06" fill="#fff" fill-opacity="0.8" stroke="#ccc" stroke-opacity="0.8" stroke-width="1.39"/>
<rect x="88.6" y="30.45" width="29.7" height="9.9" fill="#808080" fill-opacity="0.3" stroke="#808080" stroke-opacity="0.3" stroke-width="1.1"/>
<circle cx="103.3" cy="58.8" r="4.4" fill="#1f77b4" stroke="#fff" stroke-width="0.62"/>
<circle cx="103.4" cy="80.95" r="4.4" fill="#ff7f0e" fill-opacity="0.5" stroke="#fff" stroke-opacity="0.5" stroke-width="0.62"/>
<g font-size="15.1px"><text x="131.0" y="40.75">Unachievable</text><text x="131.0" y="62.6">WCS</text><text x="131.0" y="84.9">IL</text></g>
</g>
</svg></body></html>
